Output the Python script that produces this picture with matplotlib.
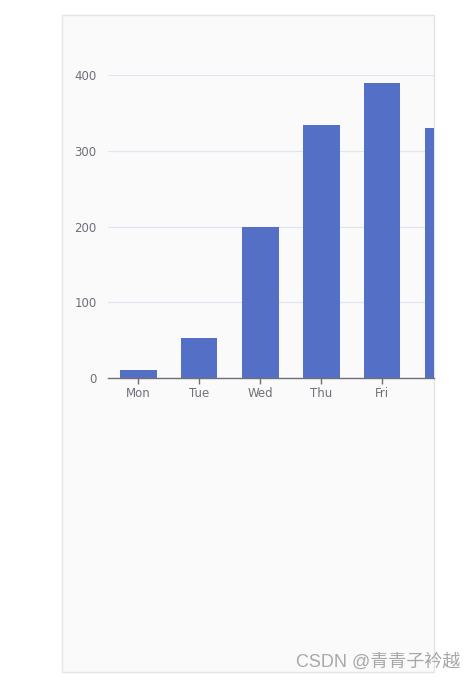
import matplotlib.pyplot as plt
from matplotlib.patches import Rectangle

days = ["Mon", "Tue", "Wed", "Thu", "Fri", "Sat", "Sun"]
values = [10, 52, 200, 334, 390, 330, 220]
y_ticks = [0, 100, 200, 300, 400]

W, H = 474, 680
fig = plt.figure(figsize=(W / 100, H / 100), dpi=100)
fig.patch.set_facecolor("white")

# container panel (chart is clipped at its right edge)
box_l, box_t, box_r, box_b = 62, 15, 434, 672
fig.patches.append(Rectangle((box_l / W, 1 - box_b / H), (box_r - box_l) / W,
                             (box_b - box_t) / H, transform=fig.transFigure,
                             facecolor="#fafafa", edgecolor="#e4e4e4", lw=1, zorder=-5))

ax_l, ax_t, ax_b = 107.7, 75.3, 377.7
band = 61.0
ax = fig.add_axes([ax_l / W, 1 - ax_b / H, (box_r - ax_l) / W, (ax_b - ax_t) / H])
ax.set_facecolor("none")
ax.set_zorder(2)

x = list(range(len(days)))
ax.bar(x, values, width=0.6, color="#5470c6", zorder=3)
ax.set_xlim(-0.5, (box_r - ax_l) / band - 0.5)
ax.set_ylim(0, 400)

# only the labels that fall inside the visible panel
visible = [i for i in x if i <= ax.get_xlim()[1]]
ax.set_yticks(y_ticks)
ax.set_xticks(visible)
ax.set_xticklabels([days[i] for i in visible])
ax.yaxis.grid(True, color="#e0e6f1", lw=0.9)
ax.set_axisbelow(True)

for s in ["top", "right", "left"]:
    ax.spines[s].set_visible(False)
ax.spines["bottom"].set_color("#6e7079")
ax.spines["bottom"].set_linewidth(1)
ax.spines["bottom"].set_zorder(4)

ax.tick_params(axis="y", length=0, pad=8, labelcolor="#6e7079", labelsize=8.5)
ax.tick_params(axis="x", length=4, width=1, color="#6e7079", pad=3,
               labelcolor="#6e7079", labelsize=8.5)

fig.text(460 / W, 1 - 662 / H, "CSDN @青青子衿越", ha="right", va="center",
         fontsize=13, color="#a8a8a8",
         family=["Liberation Sans", "Noto Sans CJK SC"])

fig.savefig("out.png", dpi=100)
